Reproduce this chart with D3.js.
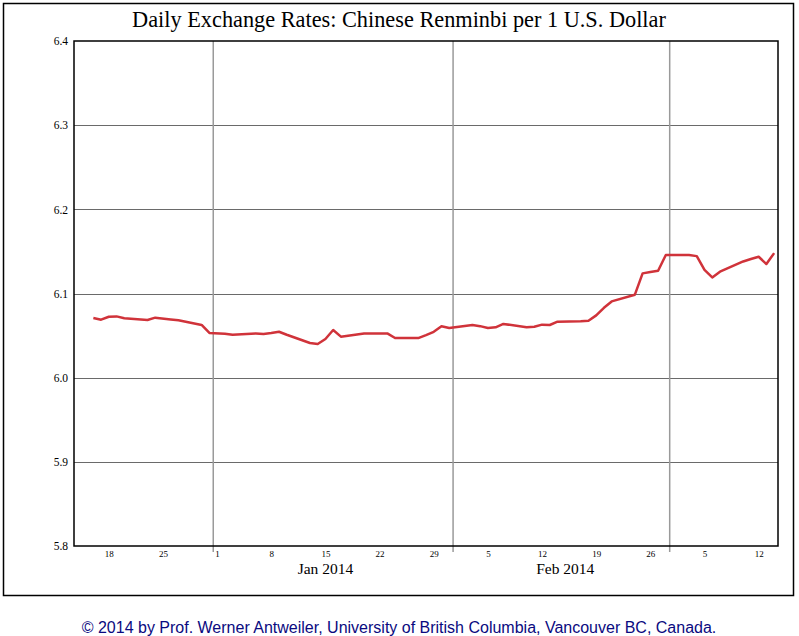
<!DOCTYPE html>
<html>
<head>
<meta charset="utf-8">
<script src="https://cdn.jsdelivr.net/npm/d3@7"></script>
<style>
  body { margin: 0; background: #fff; }
  svg { display: block; }
  .grid-h { stroke: #6a6a6a; stroke-width: 1; }
  .grid-v { stroke: #9a9a9a; stroke-width: 1.5; }
  .axis text { font-family: "Liberation Serif", "DejaVu Serif", serif; fill: #000; }
  .axis path, .axis line { display: none; }
</style>
</head>
<body>
<svg width="799" height="636"></svg>
<script>
// daily CNY per USD, business days
var dates = [
  "2013-12-16", "2013-12-17", "2013-12-18", "2013-12-19", "2013-12-20",
  "2013-12-23", "2013-12-24", "2013-12-26", "2013-12-27", "2013-12-30", "2013-12-31",
  "2014-01-02", "2014-01-03", "2014-01-06", "2014-01-07", "2014-01-08", "2014-01-09", "2014-01-10",
  "2014-01-13", "2014-01-14", "2014-01-15", "2014-01-16", "2014-01-17",
  "2014-01-20", "2014-01-21", "2014-01-22", "2014-01-23", "2014-01-24",
  "2014-01-27", "2014-01-28", "2014-01-29", "2014-01-30", "2014-01-31",
  "2014-02-03", "2014-02-04", "2014-02-05", "2014-02-06", "2014-02-07",
  "2014-02-10", "2014-02-11", "2014-02-12", "2014-02-13", "2014-02-14",
  "2014-02-17", "2014-02-18", "2014-02-19", "2014-02-20", "2014-02-21",
  "2014-02-24", "2014-02-25", "2014-02-26", "2014-02-27", "2014-02-28",
  "2014-03-03", "2014-03-04", "2014-03-05", "2014-03-06", "2014-03-07",
  "2014-03-10", "2014-03-11", "2014-03-12", "2014-03-13", "2014-03-14"
];
var rates = [
  6.0709, 6.0689, 6.0724, 6.0728, 6.0706,
  6.0686, 6.0713, 6.0692, 6.0681, 6.0626, 6.0531,
  6.0523, 6.0510, 6.0526, 6.0520, 6.0530, 6.0546, 6.0510,
  6.0412, 6.0400, 6.0460, 6.0566, 6.0487,
  6.0526, 6.0525, 6.0524, 6.0526, 6.0471,
  6.0470, 6.0505, 6.0545, 6.0610, 6.0590,
  6.0626, 6.0612, 6.0590, 6.0598, 6.0638,
  6.0600, 6.0605, 6.0630, 6.0626, 6.0665,
  6.0670, 6.0677, 6.0740, 6.0830, 6.0906,
  6.0986, 6.1239, 6.1255, 6.1271, 6.1457,
  6.1457, 6.1444, 6.1280, 6.1191, 6.1259,
  6.1381, 6.1410, 6.1437, 6.1350, 6.1480
];

var yTicks = [5.8, 5.9, 6.0, 6.1, 6.2, 6.3, 6.4];
var dayTicks = ["2013-12-18", "2013-12-25", "2014-01-01", "2014-01-08", "2014-01-15",
  "2014-01-22", "2014-01-29", "2014-02-05", "2014-02-12", "2014-02-19",
  "2014-02-26", "2014-03-05", "2014-03-12"];
var monthStarts = ["2014-01-01", "2014-02-01", "2014-03-01"];
var monthLabels = ["Jan 2014", "Feb 2014"];
var monthLabelDays = ["2014-01-15", "2014-02-15"];

var title = "Daily Exchange Rates: Chinese Renminbi per 1 U.S. Dollar";
var footer = "\u00a9 2014 by Prof. Werner Antweiler, University of British Columbia, Vancouver BC, Canada.";

var parse = d3.timeParse("%Y-%m-%d");
var noon = function(s) { return d3.timeHour.offset(parse(s), 12); };

var svg = d3.select("svg");
var plot = { left: 74, top: 41, right: 778, bottom: 546 };

var x = d3.scaleTime()
  .domain([parse("2013-12-14"), parse("2014-03-15")])
  .range([plot.left, plot.right]);
var y = d3.scaleLinear()
  .domain([5.8, 6.4])
  .range([plot.bottom, plot.top]);

// outer frame
svg.append("rect")
  .attr("x", 3.5).attr("y", 3.5)
  .attr("width", 790).attr("height", 592)
  .attr("fill", "none").attr("stroke", "#000").attr("stroke-width", 1.5);

svg.append("text")
  .attr("x", 399).attr("y", 27)
  .attr("text-anchor", "middle")
  .style("font-family", "'Liberation Serif', serif")
  .style("font-size", "22.3px")
  .text(title);

// horizontal grid
svg.append("g").selectAll("line")
  .data(yTicks.slice(1, -1))
  .enter().append("line")
  .attr("class", "grid-h")
  .attr("x1", plot.left).attr("x2", plot.right)
  .attr("y1", function(d) { return Math.round(y(d)) + 0.5; })
  .attr("y2", function(d) { return Math.round(y(d)) + 0.5; });

// month separators, drawn past the axis
svg.append("g").selectAll("line")
  .data(monthStarts)
  .enter().append("line")
  .attr("class", "grid-v")
  .attr("x1", function(d) { return x(parse(d)); })
  .attr("x2", function(d) { return x(parse(d)); })
  .attr("y1", plot.top).attr("y2", plot.bottom + 6);

// plot border
svg.append("rect")
  .attr("x", plot.left).attr("y", plot.top)
  .attr("width", plot.right - plot.left).attr("height", plot.bottom - plot.top)
  .attr("fill", "none").attr("stroke", "#000").attr("stroke-width", 1.5);

// y axis
svg.append("g")
  .attr("class", "axis")
  .attr("transform", "translate(" + plot.left + ",0)")
  .call(d3.axisLeft(y).tickValues(yTicks).tickFormat(d3.format(".1f")).tickSize(0).tickPadding(6))
  .selectAll("text").style("font-size", "11.5px");

// day ticks
svg.append("g")
  .attr("class", "axis")
  .attr("transform", "translate(0," + plot.bottom + ")")
  .call(d3.axisBottom(x).tickValues(dayTicks.map(noon)).tickFormat(d3.timeFormat("%-d")).tickSize(0).tickPadding(5))
  .selectAll("text").style("font-size", "9px");

// month labels
svg.append("g").selectAll("text")
  .data(monthLabels)
  .enter().append("text")
  .attr("x", function(d, i) { return x(noon(monthLabelDays[i])); })
  .attr("y", 574)
  .attr("text-anchor", "middle")
  .style("font-family", "'Liberation Serif', serif")
  .style("font-size", "15.5px")
  .text(function(d) { return d; });

var series = dates.map(function(d, i) { return { date: noon(d), value: rates[i] }; });

var line = d3.line()
  .x(function(d) { return x(d.date); })
  .y(function(d) { return y(d.value); });

svg.append("path")
  .datum(series)
  .attr("d", line)
  .attr("fill", "none")
  .attr("stroke", "#d0333a")
  .attr("stroke-width", 2.5)
  .attr("stroke-linejoin", "round");

svg.append("text")
  .attr("x", 399).attr("y", 633)
  .attr("text-anchor", "middle")
  .style("font-family", "'Liberation Sans', Arial, sans-serif")
  .style("font-size", "16px")
  .style("fill", "#0a0a80")
  .text(footer);
</script>
</body>
</html>
